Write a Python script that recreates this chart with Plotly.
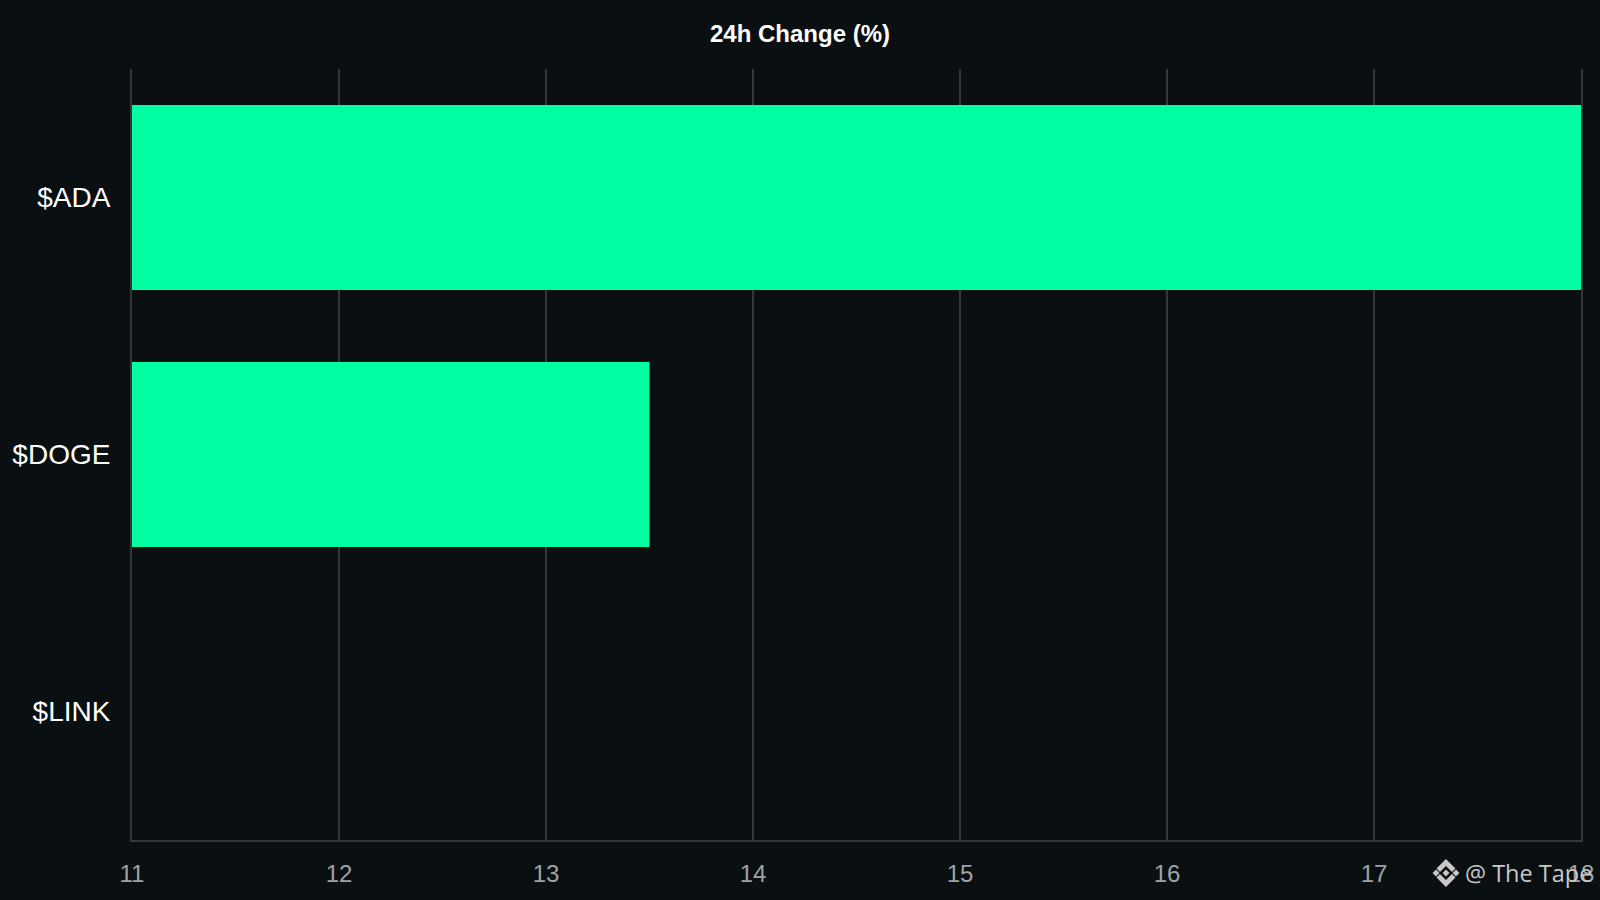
import plotly.graph_objects as go

coins = ["$ADA", "$DOGE", "$LINK"]
change_24h = [18.2, 13.5, 10.6]
tick_vals = [11, 12, 13, 14, 15, 16, 17, 18]

BG = "#0a0f12"
GREEN = "#00ffa3"
GRID = "#353638"
LOGO = "#c8c8c8"

W, H = 1600, 900
L, R, T, B = 132, 19, 69, 60


def px(x):
    return (x - L) / (W - L - R)


def py(y):
    return (H - B - y) / (H - B - T)


def logo_piece(points):
    # watermark logo piece, points are page pixels
    path = "M " + " L ".join(f"{px(a):.5f} {py(b):.5f}" for a, b in points) + " Z"
    return dict(type="path", path=path, xref="paper", yref="paper",
                fillcolor=LOGO, line_width=0, layer="above")


def diamond(cx, cy, r):
    return logo_piece([(cx - r, cy), (cx, cy - r), (cx + r, cy), (cx, cy + r)])


def chevron(cx, cy, s):
    # s=-1 top chevron, s=1 bottom chevron
    return logo_piece([
        (cx, cy + s * 14), (cx - 9.5, cy + s * 4.5), (cx - 6, cy + s * 1), (cx, cy + s * 7),
        (cx + 6, cy + s * 1), (cx + 9.5, cy + s * 4.5),
    ])


fig = go.Figure()
fig.add_trace(go.Bar(
    x=change_24h,
    y=coins,
    orientation="h",
    width=0.72,
    marker=dict(color=GREEN, line_width=0),
))

fig.update_layout(
    width=W,
    height=H,
    paper_bgcolor=BG,
    plot_bgcolor=BG,
    showlegend=False,
    margin=dict(l=L, r=R, t=T, b=B, pad=0, autoexpand=False),
    title=dict(text="<b>24h Change (%)</b>", x=0.5, xanchor="center", y=1 - 34 / H, yanchor="middle",
               font=dict(family="Liberation Sans", size=24, color="#ffffff")),
    xaxis=dict(range=[11, 18], tickvals=tick_vals, showgrid=True, gridcolor=GRID, gridwidth=2,
               zeroline=False, showline=True, linecolor=GRID, linewidth=2, ticks="",
               automargin=False, ticklabelstandoff=11,
               tickfont=dict(family="Liberation Sans", size=24, color="#a0a2a4")),
    yaxis=dict(autorange="reversed", showgrid=False, zeroline=False, ticks="",
               showline=True, mirror=True, linecolor=GRID, linewidth=2,
               automargin=False, ticklabelstandoff=14,
               tickfont=dict(family="Liberation Sans", size=28, color="#ffffff")),
)

fig.add_annotation(text="@ The Tape", xref="paper", yref="paper",
                   x=px(1463), y=py(873), xanchor="left", yanchor="middle", showarrow=False,
                   font=dict(family="Open Sans", size=23.5, color=LOGO))

fig.update_layout(shapes=[
    chevron(1446, 873, -1),
    chevron(1446, 873, 1),
    diamond(1436, 873, 3.5),
    diamond(1456, 873, 3.5),
    diamond(1446, 873, 3.5),
])

# page has a default 8px body margin, drop it so the chart fills the window
fig.write_html("out.html", config={"displayModeBar": False},
               post_script=f"document.body.style.margin='0';document.body.style.overflow='hidden';document.body.style.background='{BG}';")
